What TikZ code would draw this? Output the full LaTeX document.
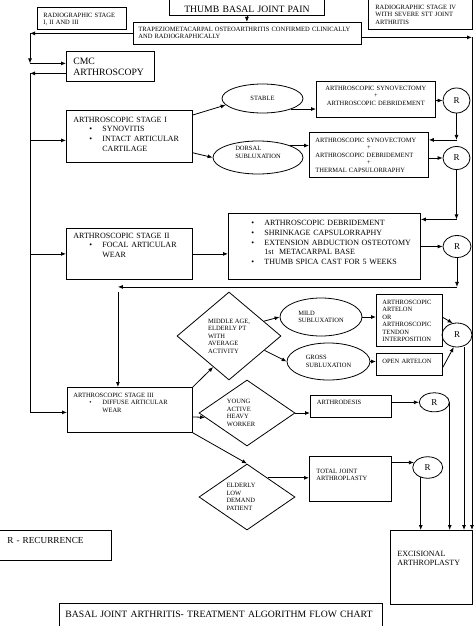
\documentclass[tikz,border=0pt]{standalone}
\usepackage{fontspec}
\setmainfont{Liberation Serif}
\usetikzlibrary{calc, arrows.meta, shapes.geometric}

\newcommand{\bul}{\hspace*{16pt}\makebox[13pt][l]{\textbullet}}
\newcommand{\bind}{\hspace*{29pt}}
\newcommand{\plus}{\makebox[\linewidth]{+}}

\begin{document}
\begin{tikzpicture}[x=1pt, y=-1pt, line width=0.8pt]
  \tikzstyle{box} = [draw, anchor=north west, align=left, inner ysep=0pt]
  \tikzstyle{arr} = [-{Latex[length=5pt, width=4pt]}]
  \tikzstyle{oval} = [draw, ellipse, inner sep=0pt]
  \tikzstyle{choice} = [draw, diamond, inner sep=0pt, align=left]
  \tikzstyle{rec} = [draw, ellipse, inner sep=0pt, font=\fontsize{9}{9}\selectfont]
  \tikzstyle{small} = [font=\fontsize{6.5}{7.5}\selectfont]
  \tikzstyle{mid} = [font=\fontsize{8}{9.8}\selectfont]
  \tikzstyle{big} = [font=\fontsize{9.7}{11.3}\selectfont]
  \useasboundingbox (0,0) rectangle (474,626);

  \node[box, big, align=center, inner xsep=4pt, text width=147pt, text height=13pt, text depth=3pt] (pain) at (169,-1) {THUMB BASAL JOINT PAIN};
  \node[box, small, inner xsep=6pt, text width=77pt, text height=9.7pt, text depth=12.3pt] (radlow) at (37,7) {RADIOGRAPHIC STAGE\\I, II AND III};
  \node[box, small, inner xsep=7pt, text width=90pt, text height=9.7pt, text depth=20.3pt] (radhigh) at (368,-1) {RADIOGRAPHIC STAGE IV\\WITH SEVERE STT JOINT\\ARTHRITIS};
  \node[box, small, inner xsep=5pt, text width=218pt, text height=9pt, text depth=13pt] (tmoa) at (133,22) {TRAPEZIOMETACARPAL OSTEOARTHRITIS CONFIRMED CLINICALLY\\AND RADIOGRAPHICALLY};
  \node[box, big, inner xsep=7pt, text width=74pt, text height=13pt, text depth=17pt] (cmc) at (66,51) {CMC\\ARTHROSCOPY};

  \node[box, mid, inner xsep=7pt, text width=112pt, text height=11.7pt, text depth=40.3pt] (st1) at (66,110) {ARTHROSCOPIC STAGE I\\\bul SYNOVITIS\\\bul INTACT ARTICULAR\\\bind CARTILAGE};
  \node[oval, small, minimum width=81pt, minimum height=29pt] (stable) at (262.5,98.5) {STABLE};
  \node[box, small, align=center, inner xsep=3pt, text width=113pt, text height=9pt, text depth=27pt] (syndeb) at (316,81) {ARTHROSCOPIC SYNOVECTOMY\\+\\ARTHROSCOPIC DEBRIDEMENT};
  \node[rec, minimum width=27pt, minimum height=25pt] (r1) at (456.5,100.5) {R};
  \node[oval, minimum width=90pt, minimum height=33pt, label={[small, align=left, anchor=center, yshift=5pt]center:{DORSAL\\SUBLUXATION}}] (dorsal) at (258,157.5) {};
  \node[box, small, inner xsep=6pt, text width=107pt, text height=9.7pt, text depth=35.3pt] (syndebcap) at (309,132) {ARTHROSCOPIC SYNOVECTOMY\\\plus\\ARTHROSCOPIC DEBRIDEMENT\\\plus\\THERMAL CAPSULORRAPHY};
  \node[rec, minimum width=27pt, minimum height=23pt] (r2) at (456.5,158) {R};

  \node[box, mid, inner xsep=7pt, text width=112pt, text height=9.7pt, text depth=41.3pt] (st2) at (66,228) {ARTHROSCOPIC STAGE II\\\bul FOCAL ARTICULAR\\\bind WEAR};
  \node[box, mid, inner xsep=7pt, text width=178pt, text height=12pt, text depth=54pt] (st2tx) at (228,213) {\bul ARTHROSCOPIC DEBRIDEMENT\\\bul SHRINKAGE CAPSULORRAPHY\\\bul EXTENSION ABDUCTION OSTEOTOMY\\\bind 1st\ \ METACARPAL BASE\\\bul THUMB SPICA CAST FOR 5 WEEKS};
  \node[rec, minimum width=28pt, minimum height=22pt] (r3) at (457,246.5) {R};

  \node[box, small, inner xsep=6pt, text width=113pt, text height=9.7pt, text depth=35.3pt] (st3) at (67,387) {ARTHROSCOPIC STAGE III\\\bul DIFFUSE ARTICULAR\\\bind WEAR};
  \node[choice, small, minimum width=104pt, minimum height=88pt] (midage) at (229,336) {MIDDLE AGE,\\ELDERLY PT\\WITH\\AVERAGE\\ACTIVITY};
  \node[oval, small, align=left, minimum width=82pt, minimum height=38pt] (mild) at (321,317) {MILD\\SUBLUXATION};
  \node[oval, small, align=left, minimum width=83pt, minimum height=37pt] (gross) at (328.5,361.5) {GROSS\\SUBLUXATION};
  \node[box, small, inner xsep=6pt, text width=54pt, text height=10pt, text depth=42pt] (artelon) at (376,294) {ARTHROSCOPIC\\ARTELON\\OR\\ARTHROSCOPIC\\TENDON\\INTERPOSITION};
  \node[box, small, inner xsep=6pt, text width=54pt, text height=9.7pt, text depth=12.3pt] (openart) at (376,353) {OPEN ARTELON};
  \node[rec, minimum width=30pt, minimum height=24pt] (r4) at (457,335) {R};

  \node[choice, minimum width=96pt, minimum height=66pt, label={[small, align=left, anchor=center, xshift=-6pt]center:{YOUNG\\ACTIVE\\HEAVY\\WORKER}}] (young) at (247,413) {};
  \node[box, small, inner xsep=6.5pt, text width=68pt, text height=9pt, text depth=13pt] (arthrod) at (310,395) {ARTHRODESIS};
  \node[rec, minimum width=30pt, minimum height=19pt] (r5) at (434.3,402.3) {R};
  \node[choice, minimum width=96pt, minimum height=66pt, label={[small, align=left, anchor=center, xshift=-6pt]center:{ELDERLY\\LOW\\DEMAND\\PATIENT}}] (elderly) at (247,497) {};
  \node[box, small, inner xsep=7pt, text width=68pt, text height=16.7pt, text depth=28.3pt] (tja) at (309,456) {TOTAL JOINT\\ARTHROPLASTY};
  \node[rec, minimum width=30pt, minimum height=21.5pt] (r6) at (427.7,467.5) {R};

  \node[box, mid, inner xsep=7pt, text width=68pt, text height=25.7pt, text depth=48.3pt] (excis) at (390,530) {EXCISIONAL\\ARTHROPLASTY};
  \node[box, font=\fontsize{9.2}{11}\selectfont, inner xsep=8pt, text width=96pt, text height=13.3pt, text depth=16.7pt] (recur) at (-1,530) {R - RECURRENCE};
  \node[box, big, inner xsep=6pt, text width=311pt, text height=13.7pt, text depth=13pt] (title) at (59,603) {BASAL JOINT ARTHRITIS- TREATMENT ALGORITHM FLOW CHART};

  \coordinate (rail) at (30,0);
  \coordinate (rrail) at (472,0);
  \coordinate (cmcin) at ([yshift=3pt]cmc.west);
  \coordinate (cmcout) at ([yshift=-7pt]cmc.west);
  \coordinate (st1in) at ([yshift=-4pt]st1.west);
  \coordinate (st3in) at ([yshift=-2.5pt]st3.west);
  \coordinate (tmoaout) at ([yshift=-4pt]tmoa.east);
  \coordinate (capin) at ([yshift=15pt]syndebcap.east);
  \coordinate (txin) at ([yshift=27pt]st2tx.east);
  \coordinate (st3top) at ([xshift=-12pt]st3.north);
  \coordinate (r4down) at ([xshift=7pt]r4.south);

  \draw[arr] (pain.south) -- (pain.south |- tmoa.north);
  \draw[arr] (tmoa.west) -- (tmoa.west -| rail);
  \draw[arr] (tmoa.west -| rail) -- (cmcin -| rail);
  \draw[arr] (cmcin -| rail) -- (cmcin);
  \draw[arr] (cmcout) -- (cmcout -| rail);
  \draw[arr] (cmcout -| rail) |- (st3in);
  \draw[arr] (st1in -| rail) -- (st1in);
  \draw[arr] (st2.west -| rail) -- (st2.west);
  \draw[arr] (tmoaout) -- (tmoaout -| rrail);
  \draw[arr] (tmoaout -| rrail) -- (excis.north -| rrail);

  \draw[arr] ([yshift=-5pt]st1.north east) -- (stable.190);
  \draw[arr] (stable.340) -- (stable.340 -| syndeb.west);
  \draw[arr] (r1.west -| syndeb.east) -- (r1.west);
  \draw[arr] (r1.south) -- (r1.south |- capin);
  \draw[arr] (r1.south |- capin) -- (capin);
  \draw[arr] ([yshift=10pt]st1.south east) -- (dorsal.west);
  \draw[arr] (dorsal.north east) -- (dorsal.north east -| syndebcap.west);
  \draw[arr] (r2.west -| syndebcap.east) -- (r2.west);
  \draw[arr] (r2.south) -- (r2.south |- txin);
  \draw[arr] (r2.south |- txin) -- (txin);

  \draw[arr] (st2.east) -- (st2.east -| st2tx.west);
  \draw[arr] (r3.west -| st2tx.east) -- (r3.west);
  \draw[arr] (r3.south) -- ++(0,29) coordinate (back);
  \draw[arr] (back) -- (back -| st3top);
  \draw[arr] ($(back -| st3top)+(0,5)$) -- (st3top);

  \draw[arr] (st3.north east) -- (midage.243);
  \draw[arr] (midage.23) -- (mild.west);
  \draw[arr] (mild.east) -- (mild.east -| artelon.west);
  \draw[arr] (midage.338) -- (gross.west);
  \draw[arr] (gross.east) -- (gross.east -| openart.west);
  \draw[arr] ([yshift=3pt]artelon.east) -- (r4.110);
  \draw[arr] ([yshift=-3pt]openart.east) -- (r4.255);
  \draw[arr] (r4down) -- (r4down |- excis.north);

  \draw[arr] ([yshift=-7pt]st3.east) -- (young.186);
  \draw[arr] (young.east) -- (young.east -| arthrod.west);
  \draw[arr] (r5.west -| arthrod.east) -- (r5.west);
  \draw[arr] (r5.east) -- (r5.east |- excis.north);
  \draw[arr] (st3.south east) -- (elderly.north);
  \draw[arr] (elderly.43) -- (elderly.43 -| tja.west);
  \draw[arr] (r6.160 -| tja.east) -- (r6.160);
  \draw[arr] (r6.235) -- (r6.235 |- excis.north);
\end{tikzpicture}
\end{document}
